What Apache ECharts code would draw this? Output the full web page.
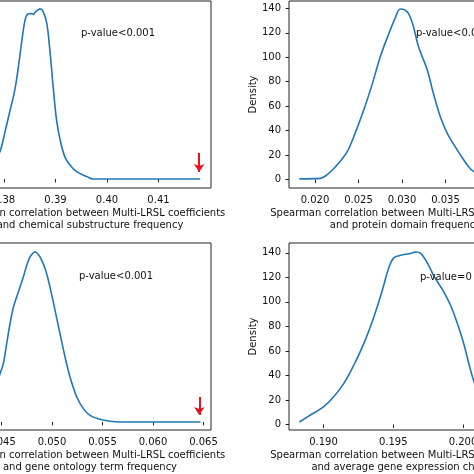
<!DOCTYPE html>
<html><head><meta charset="utf-8">
<script src="https://cdn.jsdelivr.net/npm/echarts@6/dist/echarts.min.js"></script>
<style>html,body{margin:0;padding:0;background:#fff}#c{width:474px;height:474px}</style>
</head><body><div id="c"></div>
<script>
// Panel A: chemical substructure frequency
const chemX = [0.3753,0.3772,0.3792,0.3802,0.3812,0.3821,0.3828,0.3834,0.3841,0.3847,0.3854,0.3857,0.3860,0.3870,0.3876,0.3883,0.3889,0.3896,0.3902,0.3909,0.3918,0.3928,0.3941,0.3961,0.3973,0.4000,0.4050,0.4100,0.4150,0.4181];
const chemY = [0.5,7,20.9,36.2,52.8,68.1,85.9,103.8,121.6,126.2,126.5,125.6,127.2,130,127.9,119.1,98.6,68.1,45.1,29.8,17.1,10.7,5.6,1.8,0,0,0,0,0,0];
const chemTicks = [0.38,0.39,0.40,0.41];
const chemObserved = 0.4179;
// Panel B: protein domain frequency
const protX = [0.0182,0.0206,0.0212,0.0220,0.0227,0.0237,0.0246,0.0256,0.0266,0.0275,0.0285,0.0292,0.0298,0.0306,0.0312,0.0319,0.0329,0.0336,0.0344,0.0352,0.0361,0.0371,0.0379,0.0383,0.0392,0.0402,0.0412,0.0426];
const protY = [0.5,0.9,2.8,7.7,13.2,22.7,37.7,56.8,78.6,100.4,119.6,131.8,139.4,137.2,127.7,108.6,89.5,70.5,51.3,37.7,26.8,15.9,8.3,6.3,3,1,0.3,0];
const protTicks = [0.020,0.025,0.030,0.035,0.040];
// Panel C: gene ontology term frequency
const goX = [0.0429,0.0440,0.04485,0.04518,0.04551,0.04584,0.04618,0.0465,0.04683,0.04716,0.0475,0.04782,0.04815,0.04832,0.04849,0.04881,0.04931,0.0498,0.0503,0.05079,0.05129,0.05178,0.05245,0.0531,0.05376,0.05475,0.05574,0.05673,0.0580,0.0600,0.0620,0.0640,0.0647];
const goY = [2,18,39.8,48,64.5,80.9,94.7,102.9,111.1,119.4,129,135.9,139.4,140,139.4,135.9,126.3,111.1,91.9,72.7,53.5,37.1,20.6,11,5.5,2.2,0.6,0,0,0,0,0,0];
const goTicks = [0.045,0.050,0.055,0.060,0.065];
const goObserved = 0.06458;
// Panel D: average gene expression change
const exprX = [0.18827,0.18904,0.19,0.19072,0.19145,0.19217,0.19289,0.19361,0.19422,0.1947,0.19506,0.19554,0.19614,0.19663,0.19699,0.19747,0.19795,0.19855,0.19916,0.19976,0.20012,0.20048,0.20087,0.2013,0.2018,0.2023,0.2028,0.20347];
const exprY = [2,7.5,14.3,22.4,33.3,48.3,65.9,87.7,109.5,128.5,136.1,138,139.3,140.7,139.3,131.2,120.3,109.5,95.8,76.8,63.2,46.9,32,20,11,6,3,1];
const exprTicks = [0.190,0.195,0.200];
const densityTicks = [0,20,40,60,80,100,120,140];
const xTitleLine1 = 'Spearman correlation between Multi-LRSL coefficients';
const xTitles = ['and chemical substructure frequency','and protein domain frequency','and gene ontology term frequency','and average gene expression change'];
const pTexts = ['p-value<0.001','p-value<0.001','p-value<0.001','p-value=0'];

const FONT = 'DejaVu Sans';
const zip = (xs, ys) => xs.map((x, i) => [x, ys[i]]);

function xAx(idx, min, max, ticks, dec, title) {
  return {
    type: 'value', gridIndex: idx, min: min, max: max,
    axisLine: {show: false},
    splitLine: {show: false},
    axisTick: {show: true, inside: false, length: 3.5, customValues: ticks, lineStyle: {color: '#222', width: 1}},
    axisLabel: {show: true, customValues: ticks, margin: 6, fontSize: 10, lineHeight: 12, fontFamily: FONT, color: '#111',
      formatter: v => Number(v).toFixed(dec)},
    name: xTitleLine1 + '\n' + title, nameLocation: 'middle', nameGap: 19,
    nameTextStyle: {fontSize: 10, lineHeight: 12, fontFamily: FONT, color: '#111'}
  };
}
function yAx(idx, min, max, show) {
  return {
    type: 'value', gridIndex: idx, min: min, max: max, show: show,
    axisLine: {show: false},
    splitLine: {show: false},
    axisTick: {show: true, inside: false, length: 3.5, customValues: densityTicks, lineStyle: {color: '#222', width: 1}},
    axisLabel: {show: true, customValues: densityTicks, margin: 8, fontSize: 10, fontFamily: FONT, color: '#111'},
    name: 'Density', nameLocation: 'middle', nameGap: 31,
    nameTextStyle: {fontSize: 10, fontFamily: FONT, color: '#111'}
  };
}
const gridBase = {show: true, borderColor: '#222', borderWidth: 1, backgroundColor: 'transparent', containLabel: false, outerBoundsMode: 'none'};
const lineStyle = {color: '#1f77b4', width: 1.6};
function arrow(x, y0, y1) {
  return {
    silent: true, animation: false, symbol: ['none', 'arrow'], symbolSize: 8,
    lineStyle: {color: '#e8141b', width: 2, type: 'solid'},
    itemStyle: {color: '#e8141b'},
    label: {show: false},
    data: [[{coord: [x, y0]}, {coord: [x, y1]}]]
  };
}
function series(idx, data, ml) {
  const s = {type: 'line', xAxisIndex: idx, yAxisIndex: idx, data: data, showSymbol: false, smooth: 0.35,
    lineStyle: lineStyle, itemStyle: {color: '#1f77b4'}, animation: false};
  if (ml) s.markLine = ml;
  return s;
}
function ptext(x, y, t, align) {
  return {type: 'text', x: x, y: y, style: {text: t, fontSize: 10, fontFamily: FONT, fill: '#111', align: align, verticalAlign: 'middle'}, z: 10};
}

const option = {
  animation: false,
  backgroundColor: '#fff',
  grid: [
    Object.assign({left: -31, top: 1, width: 242, height: 187}, gridBase),
    Object.assign({left: 289, top: 1, width: 233, height: 187}, gridBase),
    Object.assign({left: -31, top: 243, width: 242, height: 187}, gridBase),
    Object.assign({left: 289, top: 243, width: 233, height: 187}, gridBase)
  ],
  xAxis: [
    xAx(0, 0.3732, 0.4202, chemTicks, 2, xTitles[0]),
    xAx(1, 0.01701, 0.04379, protTicks, 3, xTitles[1]),
    xAx(2, 0.04178, 0.06574, goTicks, 3, xTitles[2]),
    xAx(3, 0.18753, 0.20423, exprTicks, 3, xTitles[3])
  ],
  yAxis: [
    yAx(0, -6.9, 136, false),
    yAx(1, -7, 146, true),
    yAx(2, -6.6, 147.4, false),
    yAx(3, -4.5, 148, true)
  ],
  series: [
    series(0, zip(chemX, chemY), arrow(chemObserved, 19.9, 5.4)),
    series(1, zip(protX, protY)),
    series(2, zip(goX, goY), arrow(goObserved, 20.6, 5.8)),
    series(3, zip(exprX, exprY))
  ],
  graphic: [
    ptext(118, 33, pTexts[0], 'center'),
    ptext(416, 33, pTexts[1], 'left'),
    ptext(116, 276, pTexts[2], 'center'),
    ptext(420, 277, pTexts[3], 'left')
  ]
};
const chart = echarts.init(document.getElementById('c'), null, {renderer: 'canvas'});
chart.setOption(option);
</script>
</body></html>
